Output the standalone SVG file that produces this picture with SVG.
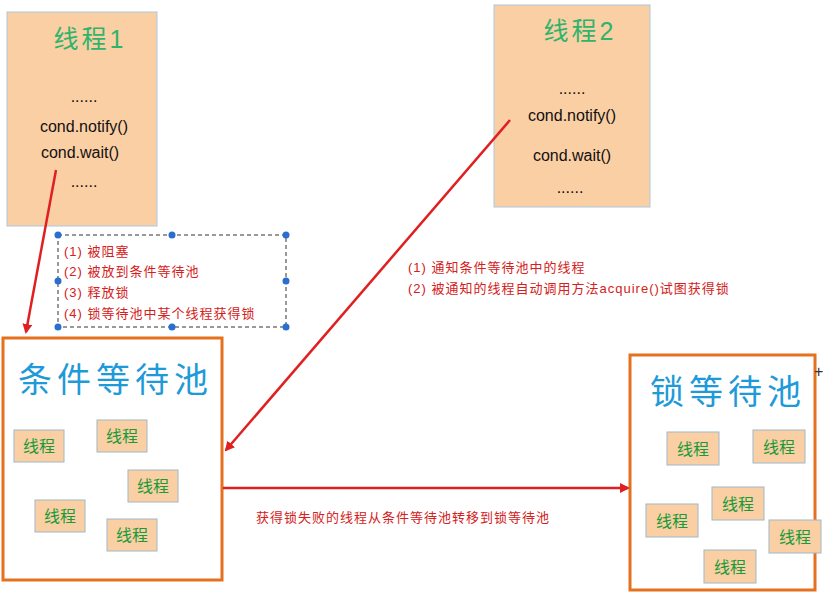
<svg xmlns="http://www.w3.org/2000/svg" width="833" height="599" viewBox="0 0 833 599">
<defs>
<style>
.th{fill:#fbcfa4;stroke:#a9c8e0;stroke-width:1}
.t{font-family:"Liberation Sans","Noto Sans CJK SC",sans-serif}
.code{font-size:16px;fill:#111;text-anchor:middle}
.ttl{font-size:25px;fill:#2eb46c;text-anchor:middle;letter-spacing:3px}
.pool{fill:#fff;stroke:#e5711f;stroke-width:3}
.ptl{font-size:34px;fill:#1f9ad8;letter-spacing:5px}
.n{fill:#fbcfa4;stroke:#9fb8c8;stroke-width:1}
.nt{font-size:16px;fill:#1a9a3a;text-anchor:middle}
.lbl{font-size:13px;fill:#d42020;letter-spacing:1px}
.h{fill:#2a6fd0}
</style>
<marker id="ar" markerWidth="10" markerHeight="10" refX="8" refY="5" orient="auto" markerUnits="userSpaceOnUse"><path d="M0,0 L10,5 L0,10 z" fill="#e02020"/></marker>
</defs>
<rect width="833" height="599" fill="#fff"/>
<g id="thread1"><rect class="th" x="7" y="12" width="150" height="214"/>
<text class="t ttl" x="90" y="48">线程1</text>
<text class="t code" x="84" y="102">......</text>
<text class="t code" x="84" y="132">cond.notify()</text>
<text class="t code" x="80" y="158">cond.wait()</text>
<text class="t code" x="84" y="187">......</text></g>
<g id="thread2"><rect class="th" x="494" y="5" width="156" height="202"/>
<text class="t ttl" x="580" y="40">线程2</text>
<text class="t code" x="572" y="94">......</text>
<text class="t code" x="572" y="121">cond.notify()</text>
<text class="t code" x="572" y="161">cond.wait()</text>
<text class="t code" x="570" y="193">......</text></g>
<g id="condpool"><rect class="pool" x="3" y="338" width="219" height="242"/>
<text class="t ptl" x="18" y="392">条件等待池</text>
<rect class="n" x="14" y="430" width="50" height="32"/><text class="t nt" x="39" y="452">线程</text>
<rect class="n" x="97" y="420" width="50" height="32"/><text class="t nt" x="122" y="442">线程</text>
<rect class="n" x="128" y="470" width="50" height="32"/><text class="t nt" x="153" y="492">线程</text>
<rect class="n" x="35" y="500" width="50" height="32"/><text class="t nt" x="60" y="522">线程</text>
<rect class="n" x="107" y="519" width="50" height="32"/><text class="t nt" x="132" y="541">线程</text></g>
<g id="lockpool"><rect class="pool" x="630" y="355" width="185" height="235"/>
<text class="t ptl" x="650" y="404">锁等待池</text>
<text class="t" x="814" y="377" font-size="16" fill="#333">+</text>
<rect class="n" x="667" y="432" width="52" height="33"/><text class="t nt" x="693" y="455">线程</text>
<rect class="n" x="753" y="430" width="52" height="33"/><text class="t nt" x="779" y="453">线程</text>
<rect class="n" x="646" y="504" width="52" height="33"/><text class="t nt" x="672" y="527">线程</text>
<rect class="n" x="712" y="487" width="52" height="33"/><text class="t nt" x="738" y="510">线程</text>
<rect class="n" x="769" y="520" width="52" height="33"/><text class="t nt" x="795" y="543">线程</text>
<rect class="n" x="704" y="550" width="52" height="33"/><text class="t nt" x="730" y="573">线程</text></g>
<g id="note1"><rect x="58" y="235" width="228" height="92" fill="none" stroke="#333" stroke-dasharray="4,3"/>
<circle class="h" cx="58" cy="235" r="3.5"/><circle class="h" cx="172" cy="235" r="3.5"/><circle class="h" cx="286" cy="235" r="3.5"/>
<circle class="h" cx="58" cy="281" r="3.5"/><circle class="h" cx="286" cy="281" r="3.5"/>
<circle class="h" cx="58" cy="327" r="3.5"/><circle class="h" cx="172" cy="327" r="3.5"/><circle class="h" cx="286" cy="327" r="3.5"/>
<text class="t lbl" x="64" y="256">(1) 被阻塞</text>
<text class="t lbl" x="64" y="276">(2) 被放到条件等待池</text>
<text class="t lbl" x="64" y="297">(3) 释放锁</text>
<text class="t lbl" x="64" y="318">(4) 锁等待池中某个线程获得锁</text></g>
<g id="note2"><text class="t lbl" x="408" y="272">(1) 通知条件等待池中的线程</text>
<text class="t lbl" x="408" y="293">(2) 被通知的线程自动调用方法acquire()试图获得锁</text></g>
<g id="connectors" stroke="#e02020" stroke-width="2.5" fill="none">
<line x1="56" y1="170" x2="26" y2="332" marker-end="url(#ar)"/>
<line x1="510" y1="120" x2="226" y2="450" marker-end="url(#ar)"/>
<line x1="223" y1="488" x2="628" y2="488" marker-end="url(#ar)"/>
</g>
<text class="t lbl" x="256" y="522">获得锁失败的线程从条件等待池转移到锁等待池</text>
</svg>
